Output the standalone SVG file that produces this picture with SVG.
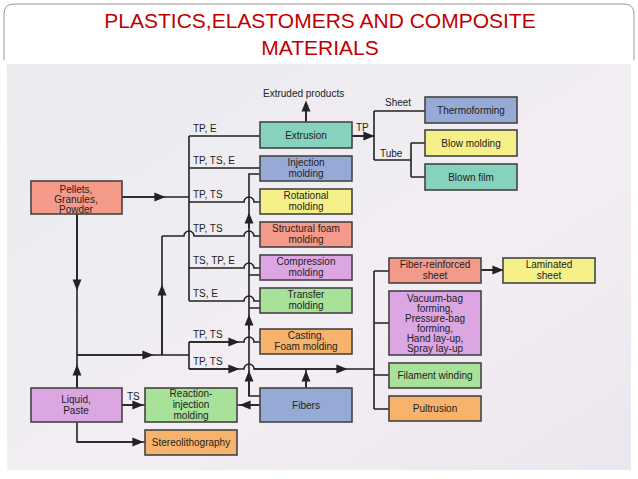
<svg xmlns="http://www.w3.org/2000/svg" width="638" height="479" viewBox="0 0 638 479">
<defs>
<linearGradient id="bg" x1="0" y1="0" x2="1" y2="1"><stop offset="0" stop-color="#e9ebef"/><stop offset="0.6" stop-color="#f3eef3"/><stop offset="1" stop-color="#ece6ee"/></linearGradient>
<marker id="ar" viewBox="0 0 10 10" refX="5" refY="5" markerWidth="7" markerHeight="7" orient="auto"><path d="M0,1 L10,5 L0,9 z" fill="#222"/></marker>
</defs>
<style>
.n rect{stroke:#444;stroke-width:1.6}
.n text,.l{font-family:"Liberation Sans",Arial,sans-serif;font-size:10px;fill:#222;text-anchor:middle}
.l{text-anchor:start}
.c path{fill:none;stroke:#222;stroke-width:1.6}
.t{font-family:"Liberation Sans",Arial,sans-serif;font-size:21px;fill:#c00000;text-anchor:middle}
</style>
<rect width="638" height="479" fill="#fff"/>
<path d="M4,60 V14 Q4,4 14,4 H624 Q634,4 634,14 V60" fill="none" stroke="#999" stroke-width="1"/>
<text class="t" x="320" y="28">PLASTICS,ELASTOMERS AND COMPOSITE</text>
<text class="t" x="320" y="55">MATERIALS</text>
<rect x="7" y="64" width="624" height="406" fill="url(#bg)"/>
<g class="c">
<path d="M306,122 V104"/><path d="M306,122 V106" marker-end="url(#ar)"/>
<path d="M189,136 H260 M189,136 V301"/>
<path d="M189,168 H260 M189,202 H244 a5,5 0 0 1 10,0 H260 M189,268 H244 a5,5 0 0 1 10,0 H260 M189,301 H244 a5,5 0 0 1 10,0 H260"/>
<path d="M162,236 H184 a5,5 0 0 1 10,0 H244 a5,5 0 0 1 10,0 H260"/>
<path d="M122,197 H189" /><path d="M122,197 H160" marker-end="url(#ar)"/>
<path d="M77,214 V355 M77,422 V355 M77,355 H189"/>
<path d="M77,214 V285" marker-end="url(#ar)"/>
<path d="M77,388 V370" marker-end="url(#ar)"/>
<path d="M77,355 H148" marker-end="url(#ar)"/>
<path d="M162,355 V236"/><path d="M162,355 V290" marker-end="url(#ar)"/>
<path d="M189,342 V369 M189,342 H244 a5,5 0 0 1 10,0 H260 M189,369 H244 a5,5 0 0 1 10,0 H374"/>
<path d="M189,342 H234" marker-end="url(#ar)"/>
<path d="M189,369 H234" marker-end="url(#ar)"/>
<path d="M254,369 H342" marker-end="url(#ar)"/>
<path d="M260,396 H249 V174 H260 M249,275 H260 M249,308 H260"/>
<path d="M249,396 V376" marker-end="url(#ar)"/>
<path d="M249,330 V320" marker-end="url(#ar)"/>
<path d="M249,228 V218" marker-end="url(#ar)"/>
<path d="M306,388 V369"/><path d="M306,388 V376" marker-end="url(#ar)"/>
<path d="M260,405 H237"/><path d="M260,405 H245" marker-end="url(#ar)"/>
<path d="M122,405 H145"/><path d="M122,405 H138" marker-end="url(#ar)"/>
<path d="M77,422 V442 H145"/><path d="M77,442 H138" marker-end="url(#ar)"/>
<path d="M352,136 H374"/><path d="M352,136 H369" marker-end="url(#ar)"/>
<path d="M374,111 V160 M374,111 H425 M374,160 H411 M411,143 V177 M411,143 H425 M411,177 H425"/>
<path d="M374,271 V409 M374,271 H389 M374,323 H389 M374,375 H389 M374,409 H389"/>
<path d="M481,270 H503"/><path d="M481,270 H498" marker-end="url(#ar)"/>
</g>
<text class="l" x="263" y="97">Extruded products</text>
<text class="l" x="193" y="132">TP, E</text>
<text class="l" x="193" y="164">TP, TS, E</text>
<text class="l" x="193" y="198">TP, TS</text>
<text class="l" x="193" y="232">TP, TS</text>
<text class="l" x="193" y="264">TS, TP, E</text>
<text class="l" x="193" y="297">TS, E</text>
<text class="l" x="193" y="338">TP, TS</text>
<text class="l" x="193" y="365">TP, TS</text>
<text class="l" x="127" y="400">TS</text>
<text class="l" x="356" y="131">TP</text>
<text class="l" x="385" y="106">Sheet</text>
<text class="l" x="380" y="157">Tube</text>
<g id="pellets" class="n"><rect x="31" y="181" width="91" height="33" fill="#f39a8a"/><text x="76" y="193">Pellets,</text><text x="76" y="203">Granules,</text><text x="76" y="213">Powder</text></g>
<g id="liquid" class="n"><rect x="31" y="388" width="91" height="34" fill="#dca6e2"/><text x="76" y="403">Liquid,</text><text x="76" y="414">Paste</text></g>
<g id="rim" class="n"><rect x="145" y="388" width="92" height="34" fill="#a8e19a"/><text x="191" y="397">Reaction-</text><text x="191" y="408">injection</text><text x="191" y="419">molding</text></g>
<g id="stereo" class="n"><rect x="145" y="430" width="92" height="25" fill="#f7b26b"/><text x="191" y="446">Stereolithography</text></g>
<g id="extrusion" class="n"><rect x="260" y="122" width="92" height="26" fill="#86d2be"/><text x="306" y="139">Extrusion</text></g>
<g id="injection" class="n"><rect x="260" y="156" width="92" height="25" fill="#97aad6"/><text x="306" y="166">Injection</text><text x="306" y="177">molding</text></g>
<g id="rotational" class="n"><rect x="260" y="189" width="92" height="25" fill="#f6f08a"/><text x="306" y="199">Rotational</text><text x="306" y="210">molding</text></g>
<g id="structural" class="n"><rect x="260" y="222" width="92" height="25" fill="#f39a8a"/><text x="306" y="232">Structural foam</text><text x="306" y="243">molding</text></g>
<g id="compression" class="n"><rect x="260" y="255" width="92" height="25" fill="#dca6e2"/><text x="306" y="265">Compression</text><text x="306" y="276">molding</text></g>
<g id="transfer" class="n"><rect x="260" y="288" width="92" height="25" fill="#a8e19a"/><text x="306" y="298">Transfer</text><text x="306" y="309">molding</text></g>
<g id="casting" class="n"><rect x="260" y="329" width="92" height="25" fill="#f7b26b"/><text x="306" y="339">Casting,</text><text x="306" y="350">Foam molding</text></g>
<g id="fibers" class="n"><rect x="260" y="388" width="92" height="34" fill="#97aad6"/><text x="306" y="409">Fibers</text></g>
<g id="thermo" class="n"><rect x="425" y="97" width="92" height="26" fill="#97aad6"/><text x="471" y="114">Thermoforming</text></g>
<g id="blow" class="n"><rect x="425" y="130" width="92" height="26" fill="#f6f08a"/><text x="471" y="147">Blow molding</text></g>
<g id="blown" class="n"><rect x="425" y="164" width="92" height="26" fill="#86d2be"/><text x="471" y="181">Blown film</text></g>
<g id="frs" class="n"><rect x="389" y="258" width="92" height="25" fill="#f39a8a"/><text x="435" y="268">Fiber-reinforced</text><text x="435" y="279">sheet</text></g>
<g id="laminated" class="n"><rect x="503" y="258" width="92" height="25" fill="#f6f08a"/><text x="549" y="268">Laminated</text><text x="549" y="279">sheet</text></g>
<g id="vacuum" class="n"><rect x="389" y="291" width="92" height="64" fill="#dca6e2"/><text x="435" y="302">Vacuum-bag</text><text x="435" y="312">forming,</text><text x="435" y="322">Pressure-bag</text><text x="435" y="332">forming,</text><text x="435" y="342">Hand lay-up,</text><text x="435" y="352">Spray lay-up</text></g>
<g id="filament" class="n"><rect x="389" y="363" width="92" height="25" fill="#a8e19a"/><text x="435" y="379">Filament winding</text></g>
<g id="pultrusion" class="n"><rect x="389" y="396" width="92" height="25" fill="#f7b26b"/><text x="435" y="412">Pultrusion</text></g>
</svg>
